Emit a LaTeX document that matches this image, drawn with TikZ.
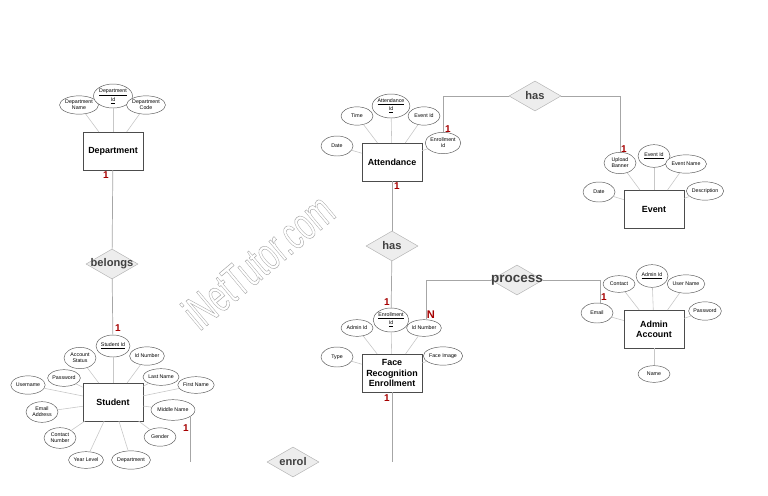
\documentclass[tikz,border=0pt]{standalone}
\usepackage{fontspec}
\setmainfont{Liberation Sans}
\usetikzlibrary{shapes.geometric}

\newcommand{\attfont}{\fontsize{4.5}{5}\selectfont}
\newcommand{\entfont}{\fontsize{7.6}{8.6}\selectfont\bfseries}
\newcommand{\relfont}{\fontsize{9.5}{10}\selectfont\bfseries}
\newcommand{\cardfont}{\fontsize{8.5}{9}\selectfont\bfseries}

\begin{document}
\begin{tikzpicture}[x=0.03cm, y=-0.03cm,
    ent/.style = {draw=black!70, fill=white, minimum width=1.8cm, minimum height=1.13cm, font=\entfont, align=center, inner sep=1pt},
    attr/.style = {ellipse, draw=black!65, fill=white, inner sep=0pt, minimum width=0.96cm, minimum height=0.55cm, font=\attfont, align=center},
    rel/.style = {diamond, draw=black!30, fill=black!7, inner sep=0pt, minimum width=1.56cm, minimum height=0.9cm},
    reltext/.style = {font=\relfont, text=black!75},
    card/.style = {text=red!65!black, font=\cardfont, inner sep=0pt},
    ln/.style = {draw=black!22, line width=0.5pt},
    rl/.style = {draw=black!35, line width=0.6pt}]
    \useasboundingbox (0,0) rectangle (768,495);

    % watermark
    \node [rotate=40, xscale=0.62, transform shape, font=\fontsize{40}{40}\selectfont, text=white, inner sep=0pt] (wm) at (258,261)
        {\special{pdf:literal direct q 1 Tr 0.45 w 0.66 G}iNetTutor.com\special{pdf:literal direct Q}};

    % department
    \node [ent] (dep) at (113,151) {Department};
    \node [attr] (depN) at (79,105) {Department\\Name};
    \node [attr, minimum width=1.02cm, minimum height=0.72cm] (depI) at (113,96) {\underline{Department}\\[0.4pt]\underline{Id}};
    \node [attr] (depC) at (146,105) {Department\\Code};
    \foreach \a in {depN, depI, depC}
        \draw [ln] (dep) -- (\a);

    % student
    \node [ent] (stu) at (113,402) {Student};
    \node [attr, minimum height=0.66cm] (sId) at (113,346) {\underline{Student Id}};
    \node [attr, minimum height=0.64cm] (sAcc) at (80,358) {Account\\Status};
    \node [attr] (sNum) at (147,356) {Id Number};
    \node [attr, minimum height=0.5cm] (sPwd) at (64,378) {Password};
    \node [attr, minimum height=0.5cm] (sLast) at (161,377) {Last Name};
    \node [attr] (sUser) at (28,385) {Username};
    \node [attr, minimum height=0.5cm] (sFirst) at (196,385) {First Name};
    \node [attr, minimum height=0.62cm] (sMail) at (42,412) {Email\\Address};
    \node [attr, minimum height=0.62cm] (sMid) at (173,410) {Middle Name};
    \node [attr, minimum height=0.62cm] (sCon) at (60,438) {Contact\\Number};
    \node [attr] (sGen) at (160,437) {Gender};
    \node [attr, minimum height=0.5cm] (sYear) at (86,460) {Year Level};
    \node [attr] (sDep) at (131,460) {Department};
    \foreach \a in {sId, sAcc, sNum, sPwd, sLast, sUser, sFirst, sMail, sMid, sCon, sGen, sYear, sDep}
        \draw [ln] (stu) -- (\a);

    % attendance
    \node [ent] (att) at (392,162) {Attendance};
    \node [attr, minimum height=0.6cm] (aDate) at (337,146) {Date};
    \node [attr] (aTime) at (357,116) {Time};
    \node [attr, minimum height=0.72cm] (aId) at (391,106) {\underline{Attendance}\\[0.4pt]\underline{Id}};
    \node [attr] (aEvt) at (424,116) {Event Id};
    \node [attr, minimum height=0.64cm] (aEnr) at (443,143) {Enrollment\\Id};
    \foreach \a in {aDate, aTime, aId, aEvt, aEnr}
        \draw [ln] (att) -- (\a);

    % event
    \node [ent] (evt) at (654,209) {Event};
    \node [attr, minimum height=0.6cm] (eDate) at (599,192) {Date};
    \node [attr, minimum height=0.64cm] (eBan) at (620,163) {Upload\\Banner};
    \node [attr, minimum height=0.68cm] (eId) at (654,156) {\underline{Event Id}};
    \node [attr] (eName) at (686,164) {Event Name};
    \node [attr] (eDesc) at (705,191) {Description};
    \foreach \a in {eDate, eBan, eId, eName, eDesc}
        \draw [ln] (evt) -- (\a);

    % face recognition enrollment
    \node [ent] (fre) at (392,373) {Face\\Recognition\\Enrollment};
    \node [attr, minimum height=0.6cm] (fType) at (337,357) {Type};
    \node [attr, minimum height=0.5cm] (fAdm) at (357,328) {Admin Id};
    \node [attr, minimum height=0.72cm] (fEnr) at (391,320) {\underline{Enrollment}\\[0.4pt]\underline{Id}};
    \node [attr, minimum height=0.5cm] (fNum) at (424,328) {Id Number};
    \node [attr] (fImg) at (443,356) {Face Image};
    \foreach \a in {fType, fAdm, fEnr, fNum, fImg}
        \draw [ln] (fre) -- (\a);

    % admin account
    \node [ent] (adm) at (654,329) {Admin\\Account};
    \node [attr, minimum height=0.6cm] (dMail) at (597,313) {Email};
    \node [attr, minimum height=0.5cm] (dCon) at (619,284) {Contact};
    \node [attr, minimum height=0.68cm] (dId) at (652,276) {\underline{Admin Id}};
    \node [attr] (dUser) at (686,284) {User Name};
    \node [attr] (dPwd) at (705,311) {Password};
    \node [attr, minimum height=0.5cm] (dName) at (654,374) {Name};
    \foreach \a in {dMail, dCon, dId, dUser, dPwd, dName}
        \draw [ln] (adm) -- (\a);

    % relationships
    \node [rel] (belongs) at (112,264) {};
    \node [reltext] at (belongs) {belongs};
    \node [rel] (hasE) at (535,96) {};
    \node [reltext] at (hasE) {has};
    \node [rel] (hasF) at (392,246) {};
    \node [reltext] at (hasF) {has};
    \node [rel] (proc) at (517,280) {};
    \node [reltext, font=\fontsize{11.5}{12}\selectfont\bfseries] at (proc) {process};
    \node [rel] (enrol) at (293,462) {};
    \node [reltext] at (enrol) {enrol};
    \coordinate (enrL) at (190,462);
    \coordinate (enrR) at (392,462);

    \draw [rl] (dep) -- (belongs);
    \draw [rl] (belongs) -- (sId);
    \draw [rl] (aEnr) |- (hasE);
    \draw [rl] (hasE) -| (eBan);
    \draw [rl] (att) -- (hasF);
    \draw [rl] (hasF) -- (fEnr);
    \draw [rl] ([xshift=2]fNum.north) |- (proc);
    \draw [rl] (proc) -| ([xshift=3]dMail.north);
    \draw [rl] (fre) -- (enrR);
    \draw [rl] (enrL |- sMid.-20) -- (enrL);

    % cardinalities
    \node [card] at (106,175) {1};
    \node [card] at (118,328) {1};
    \node [card] at (397,186) {1};
    \node [card] at (448,129) {1};
    \node [card] at (624,149) {1};
    \node [card] at (387,302) {1};
    \node [card, font=\fontsize{9.5}{10}\selectfont\bfseries] at (431,315) {N};
    \node [card] at (604,297) {1};
    \node [card] at (387,398) {1};
    \node [card] at (186,428) {1};
\end{tikzpicture}
\end{document}
